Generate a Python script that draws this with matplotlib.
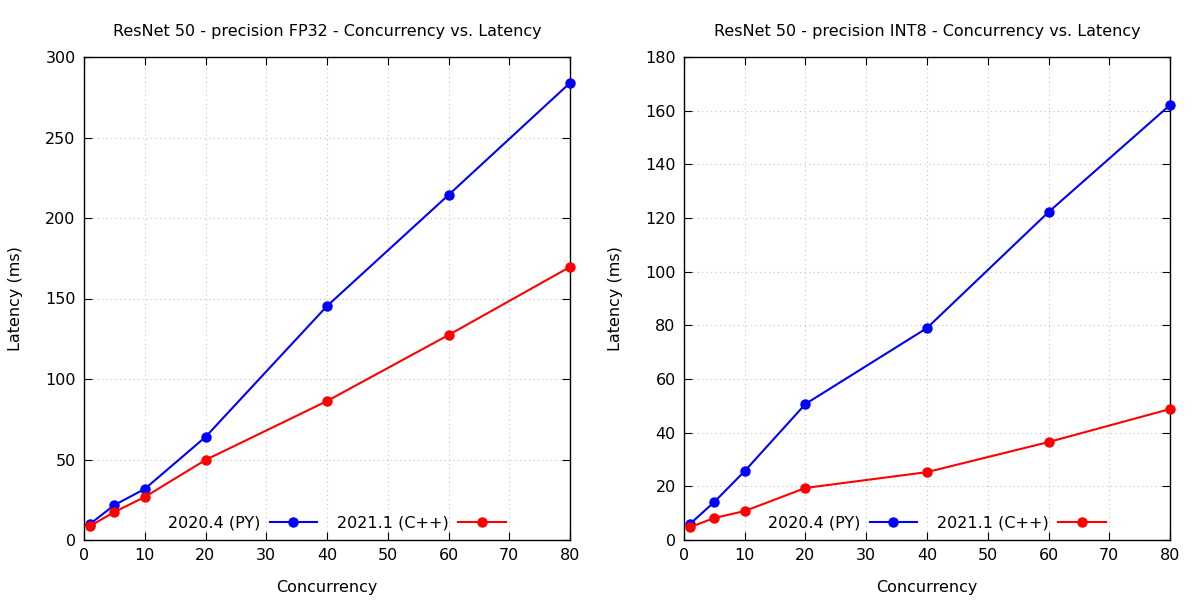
import matplotlib
matplotlib.use("Agg")
import matplotlib.pyplot as plt

concurrency = [1, 5, 10, 20, 40, 60, 80]
fp32_2020 = [10, 21.7, 31.7, 64, 145.3, 214.3, 283.9]
fp32_2021 = [8.7, 17.4, 26.7, 49.7, 86.3, 127.3, 169.6]
int8_2020 = [6.0, 14.2, 25.7, 50.7, 79, 122.2, 162.1]
int8_2021 = [4.8, 8.2, 10.8, 19.4, 25.3, 36.5, 48.8]
labels = ["2020.4 (PY)", "2021.1 (C++)"]
titles = ["ResNet 50 - precision FP32 - Concurrency vs. Latency",
          "ResNet 50 - precision INT8 - Concurrency vs. Latency"]
xticks = list(range(0, 81, 10))
yticks_fp32 = list(range(0, 301, 50))
yticks_int8 = list(range(0, 181, 20))

plt.rcParams['font.family'] = ['DejaVu Sans']
fs = 11.5
fig = plt.figure(figsize=(12, 6), dpi=100)
ax1 = fig.add_axes([0.07, 0.1, 0.405, 0.805])
ax2 = fig.add_axes([0.57, 0.1, 0.405, 0.805])

panels = [(ax1, fp32_2020, fp32_2021, yticks_fp32, titles[0]),
          (ax2, int8_2020, int8_2021, yticks_int8, titles[1])]
for ax, a, b, yt, t in panels:
    ax.plot(concurrency, a, color='#0000ff', marker='o', markersize=6.5, lw=1.5, label=labels[0], clip_on=False, zorder=3)
    ax.plot(concurrency, b, color='#ff0000', marker='o', markersize=6.5, lw=1.5, label=labels[1], clip_on=False, zorder=3)
    ax.set_xlim(0, 80)
    ax.set_ylim(yt[0], yt[-1])
    ax.set_xticks(xticks)
    ax.set_yticks(yt)
    ax.tick_params(direction='in', top=True, right=True, length=6, labelsize=fs, pad=6)
    ax.grid(True, linestyle=(0, (1, 3)), color='#c0c0c0', lw=0.8)
    ax.set_axisbelow(True)
    ax.set_xlabel("Concurrency", fontsize=fs, labelpad=12)
    ax.set_ylabel("Latency (ms)", fontsize=fs, labelpad=16)
    ax.set_title(t, fontsize=fs, pad=15)
    for s in ax.spines.values():
        s.set_linewidth(1.0)
    ax.legend(loc='center', bbox_to_anchor=(0.52, 0.036), ncol=2, frameon=False,
              markerfirst=False, fontsize=fs, handlelength=3.0, columnspacing=1.2,
              handletextpad=0.6)

fig.savefig("out.png", dpi=100)
